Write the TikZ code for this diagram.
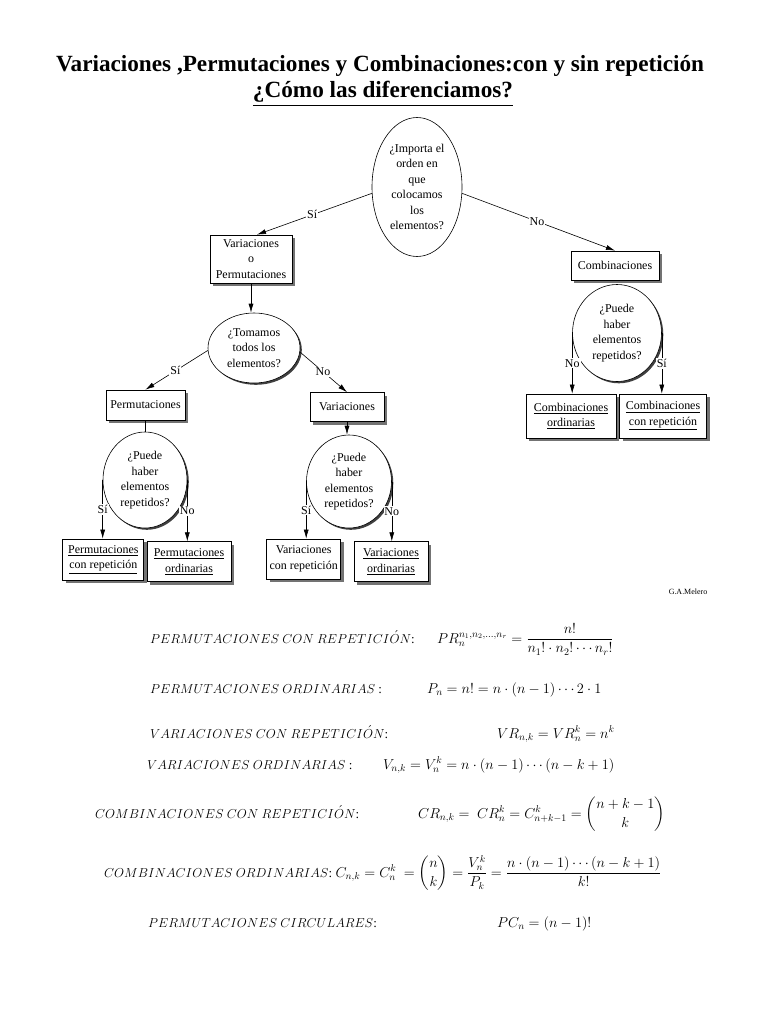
\RequirePackage{fix-cm}
\documentclass[tikz,border=0pt]{standalone}
\usepackage{amsmath}
\usepackage{fontspec}
\setmainfont{Liberation Serif}
\usetikzlibrary{shapes.geometric,shadows,arrows.meta}
\begin{document}
\begin{tikzpicture}[x=1bp,y=-1bp,
  every node/.style={font=\fontsize{12}{15.5}\selectfont},
  box/.style={draw, fill=white, line width=0.7bp, align=center, inner sep=0pt,
    drop shadow={shadow xshift=3bp, shadow yshift=-3bp, fill=black!55, opacity=1}},
  ell/.style={draw, fill=white, ellipse, line width=0.6bp, align=center, inner sep=0pt},
  ellsh/.style={ell, drop shadow={shadow xshift=1.8bp, shadow yshift=-1.8bp, fill=black!75, opacity=1}},
  conn/.style={line width=0.6bp},
  arr/.style={conn, -{Latex[length=9bp,width=5bp]}},
  lab/.style={fill=white, inner sep=1pt},
  lbl/.style={anchor=base west, inner sep=0pt, font=\fontsize{13}{15}\selectfont},
  fml/.style={anchor=base west, inner sep=0pt, font=\fontsize{14.4}{17}\selectfont},
]
\path[use as bounding box, fill=white] (0,0) rectangle (768,1024);

% title
\node[font=\bfseries\fontsize{23.3}{26}\selectfont, anchor=base, inner sep=0pt] (t1) at (380,71)
  {Variaciones ,Permutaciones y Combinaciones:con y sin repetición};
\node[font=\bfseries\fontsize{23.3}{26}\selectfont, anchor=base, inner sep=0pt] (t2) at (383,97)
  {\underline{¿Cómo las diferenciamos?}};

% ellipses
\node[ell, minimum width=90bp, minimum height=139bp] (E1) at (417,187)
  {¿Importa el\\orden en\\que\\colocamos\\los\\elementos?};
\node[ellsh, minimum width=92bp, minimum height=70bp] (E2) at (254,348)
  {¿Tomamos\\todos los\\elementos?};
\node[ellsh, minimum width=84bp, minimum height=96bp] (E3) at (145,480)
  {¿Puede\\haber\\elementos\\repetidos?};
\node[ellsh, minimum width=85bp, minimum height=93bp] (E4) at (349,481.5)
  {¿Puede\\haber\\elementos\\repetidos?};
\node[ellsh, minimum width=89bp, minimum height=97bp] (E5) at (617,333)
  {¿Puede\\haber\\elementos\\repetidos?};

% boxes
\node[box, minimum width=82bp, minimum height=48bp] (VoP) at (251,259) {Variaciones\\o\\Permutaciones};
\node[box, minimum width=88bp, minimum height=29bp] (Comb) at (615,265.5) {Combinaciones};
\node[box, minimum width=79bp, minimum height=30bp] (Perm) at (145.5,405) {Permutaciones};
\node[box, minimum width=74bp, minimum height=29bp] (Var) at (347,407) {Variaciones};
\node[box, minimum width=81bp, minimum height=41bp] (PCR) at (103.3,559.5) {\underline{Permutaciones}\\\underline{con repetición}};
\node[box, minimum width=84bp, minimum height=40bp] (PO) at (189,561.7) {\underline{Permutaciones}\\\underline{ordinarias}};
\node[box, minimum width=74bp, minimum height=40bp] (VCR) at (303.7,559) {Variaciones\\con repetición};
\node[box, minimum width=74bp, minimum height=40bp] (VO) at (391,561.7) {\underline{Variaciones}\\\underline{ordinarias}};
\node[box, minimum width=90bp, minimum height=44bp] (CO) at (571,416) {\underline{Combinaciones}\\\underline{ordinarias}};
\node[box, minimum width=87bp, minimum height=44bp] (CCR) at (663,416) {\underline{Combinaciones}\\\underline{con repetición}};

% connectors
\draw[arr] (E1.188) -- node[lab, pos=0.52] {Sí} ([xshift=6bp]VoP.north);
\draw[arr] (E1.-8) -- node[lab, pos=0.49] {No} (Comb.north);
\draw[arr] (VoP.south) -- (VoP.south |- E2.north);
\draw[arr] (E2.183) -- node[lab, pos=0.52] {Sí} (Perm.north);
\draw[arr] (E2.-5) -- node[lab, pos=0.49] {No} (Var.north);
\draw[conn] (Perm.south) -- (Perm.south |- E3.north);
\draw[arr] (Var.south) -- (Var.south |- E4.north);
\draw[arr] (E3.west) -- node[lab] {Sí} (E3.west |- PCR.north);
\draw[arr] (E3.east) -- node[lab] {No} (E3.east |- PO.north);
\draw[arr] (E4.west) -- node[lab] {Sí} (E4.west |- VCR.north);
\draw[arr] (E4.east) -- node[lab] {No} (E4.east |- VO.north);
\draw[arr] (E5.west) -- node[lab] {No} (E5.west |- CO.north);
\draw[arr] (E5.east) -- node[lab] {Sí} (E5.east |- CCR.north);

\node[font=\fontsize{8}{9}\selectfont, inner sep=0pt] (gam) at (688,592) {G.A.Melero};

% formulas
\node[lbl] (f1l) at (150,643) {$PERMUTACIONES\ CON\ REPETICI\acute{O}N$:};
\node[fml] (f1r) at (437,643) {$\displaystyle PR_n^{n_1,n_2,\ldots,n_r}=\frac{n!}{n_1!\cdot n_2!\cdots n_r!}$};
\node[lbl] (f2l) at (150,693) {$PERMUTACIONES\ ORDINARIAS$ :};
\node[fml] (f2r) at (427,693) {$P_n=n!=n\cdot(n-1)\cdots2\cdot1$};
\node[lbl] (f3l) at (150,738) {$VARIACIONES\ CON\ REPETICI\acute{O}N$:};
\node[fml] (f3r) at (497,738) {$VR_{n,k}=VR_n^k=n^k$};
\node[lbl] (f4l) at (147,769) {$VARIACIONES\ ORDINARIAS$ :};
\node[fml] (f4r) at (383,769) {$V_{n,k}=V_n^k=n\cdot(n-1)\cdots(n-k+1)$};
\node[lbl] (f5l) at (95,818) {$COMBINACIONES\ CON\ REPETICI\acute{O}N$:};
\node[fml] (f5r) at (418,818) {$\displaystyle CR_{n,k}=\ CR_n^k=C_{n+k-1}^k=\binom{n+k-1}{k}$};
\node[lbl] (f6l) at (104,877) {$COMBINACIONES\ ORDINARIAS$:};
\node[fml, anchor=base west] (f6r) at ([xshift=3bp]f6l.base east) {$\displaystyle C_{n,k}=C_n^k\ =\binom{n}{k}=\frac{V_n^k}{P_k}=\frac{n\cdot(n-1)\cdots(n-k+1)}{k!}$};
\node[lbl] (f7l) at (148,927) {$PERMUTACIONES\ CIRCULARES$:};
\node[fml] (f7r) at (497,927) {$PC_n=(n-1)!$};
\end{tikzpicture}
\end{document}
